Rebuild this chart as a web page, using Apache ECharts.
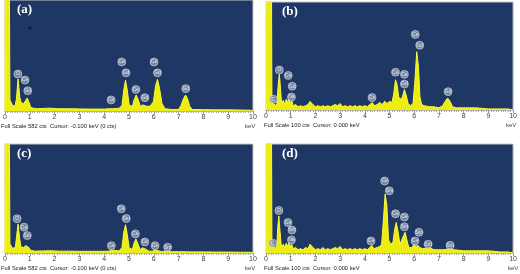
<!DOCTYPE html>
<html>
<head>
<meta charset="utf-8">
<script src="https://cdn.jsdelivr.net/npm/echarts@6/dist/echarts.min.js"></script>
<style>
  html, body { margin: 0; padding: 0; background: #fff; }
  #chart { width: 520px; height: 274px; }
</style>
</head>
<body>
<div id="chart"></div>
<script>
// spectra as [keV, counts]
const specA = [[0,0],[0.02,900],[0.17,900],[0.2,60],[0.3,30],[0.4,25],[0.46,60],[0.53,168],[0.6,70],[0.65,45],[0.7,50],[0.76,38],[0.83,55],[0.9,68],[0.97,45],[1.04,20],[1.15,14],[1.3,12],[1.5,13],[1.8,15],[2.1,12],[2.5,12],[3.0,11],[3.5,10],[4.0,10],[4.2,12],[4.28,18],[4.36,12],[4.6,14],[4.72,30],[4.79,110],[4.86,162],[4.93,110],[5.01,30],[5.14,25],[5.21,60],[5.29,84],[5.37,60],[5.46,25],[5.56,32],[5.63,37],[5.7,25],[5.85,25],[5.99,50],[6.07,130],[6.15,166],[6.23,120],[6.33,40],[6.45,12],[6.7,8],[7.0,8],[7.1,30],[7.2,65],[7.28,84],[7.36,65],[7.45,25],[7.55,8],[8,7],[8.5,6],[9,6],[9.5,5],[9.9,4],[10,0]];
const specB = [[0,0],[0.01,130],[0.22,130],[0.24,8],[0.28,9],[0.32,7],[0.38,4],[0.44,6],[0.5,25],[0.54,33],[0.58,22],[0.63,6],[0.7,9],[0.76,5],[0.82,10],[0.88,7],[0.93,11],[0.98,6],[1.04,9],[1.1,4],[1.2,5],[1.3,3],[1.4,4],[1.5,3],[1.6,4],[1.7,5],[1.78,8],[1.84,9],[1.9,5],[2.0,3],[2.1,4],[2.2,3],[2.3,4],[2.4,3],[2.5,4],[2.6,3],[2.7,4],[2.8,5],[2.9,4],[3.0,6],[3.1,3],[3.2,4],[3.3,3],[3.4,4],[3.5,3],[3.6,4],[3.7,3],[3.8,4],[3.9,3],[4.0,4],[4.1,3],[4.2,5],[4.3,7],[4.38,4],[4.5,5],[4.6,7],[4.7,5],[4.8,8],[4.9,6],[5.0,8],[5.1,7],[5.17,15],[5.24,28],[5.3,24],[5.37,12],[5.45,10],[5.52,12],[5.6,19],[5.67,14],[5.75,6],[5.85,4],[5.95,6],[6.02,25],[6.1,54],[6.17,40],[6.23,12],[6.3,5],[6.4,4],[6.6,3],[6.8,3],[7.0,2],[7.15,4],[7.25,8],[7.35,11],[7.45,8],[7.55,3],[7.7,2],[8.0,2],[8.5,2],[9.0,1],[9.5,1],[9.8,1],[10,0]];
const specC = [[0,0],[0.02,900],[0.17,900],[0.2,50],[0.3,25],[0.42,30],[0.47,90],[0.53,155],[0.59,80],[0.64,35],[0.7,38],[0.76,28],[0.83,40],[0.89,48],[0.96,30],[1.03,15],[1.2,10],[1.5,11],[1.8,12],[2.2,10],[2.6,10],[3.0,9],[3.5,9],[4.0,9],[4.2,10],[4.29,16],[4.36,10],[4.6,11],[4.72,30],[4.79,110],[4.86,151],[4.93,100],[5.01,25],[5.14,20],[5.21,55],[5.28,75],[5.36,50],[5.45,18],[5.55,28],[5.61,37],[5.68,20],[5.8,10],[5.95,10],[6.04,16],[6.12,9],[6.3,8],[6.56,9],[6.7,7],[7.0,7],[7.5,6],[8,6],[8.5,5],[9,5],[9.5,4],[9.9,4],[10,0]];
const specD = [[0,0],[0.01,130],[0.22,130],[0.24,8],[0.28,9],[0.32,6],[0.38,4],[0.44,7],[0.48,25],[0.52,34],[0.56,22],[0.62,6],[0.7,8],[0.76,5],[0.82,9],[0.88,6],[0.94,10],[0.99,5],[1.04,8],[1.1,4],[1.2,5],[1.3,3],[1.4,4],[1.5,3],[1.6,5],[1.7,4],[1.78,8],[1.84,9],[1.9,5],[2.0,3],[2.1,4],[2.2,3],[2.3,5],[2.4,3],[2.5,4],[2.6,3],[2.7,4],[2.8,5],[2.9,4],[3.0,6],[3.1,3],[3.2,4],[3.3,3],[3.4,4],[3.5,3],[3.6,4],[3.7,3],[3.8,4],[3.9,3],[4.0,4],[4.1,3],[4.2,5],[4.28,7],[4.36,4],[4.5,5],[4.6,6],[4.68,8],[4.75,30],[4.82,54],[4.89,44],[4.96,12],[5.05,8],[5.14,10],[5.21,22],[5.27,28],[5.34,20],[5.42,8],[5.5,9],[5.57,16],[5.63,19],[5.7,12],[5.78,5],[5.9,5],[6.0,8],[6.06,6],[6.15,7],[6.22,5],[6.35,4],[6.5,4],[6.6,5],[6.8,3],[7.0,3],[7.2,3],[7.45,4],[7.6,3],[8.0,2],[8.5,2],[9.0,2],[9.5,1],[9.8,1],[10,0]];

// element tags as [keV, counts, name]
const tagsA = [[0.52,194,'O'],[0.81,162,'Ce'],[0.92,106,'Gd'],[4.28,58,'Ce'],[4.71,257,'Ce'],[4.88,200,'Gd'],[5.28,113,'Ce'],[5.64,70,'Gd'],[6.01,257,'Ce'],[6.15,200,'Gd'],[7.29,117,'Gd']];
const tagsB = [[0.30,10,'C'],[0.54,37,'O'],[0.90,32,'Ce'],[1.06,22,'Gd'],[1.03,12,'Na'],[4.29,11.5,'Ce'],[5.24,35,'Ce'],[5.60,33,'Ce'],[5.60,24,'Gd'],[6.04,70,'Ce'],[6.22,60,'Gd'],[7.37,17,'Gd']];
const tagsC = [[0.49,183,'O'],[0.77,138,'Ce'],[0.90,93,'Sm'],[4.29,39,'Ce'],[4.69,236,'Ce'],[4.89,184,'Sm'],[5.26,102,'Ce'],[5.64,59,'Ce'],[6.05,39,'Ce'],[6.56,31,'Sm']];
const tagsD = [[0.27,9,'C'],[0.52,39,'O'],[0.89,28,'Ce'],[1.05,21,'Sm'],[1.03,12,'Na'],[4.25,11,'Ce'],[4.80,66,'Ce'],[4.99,57,'Sm'],[5.24,36,'Ce'],[5.60,33,'Ce'],[5.60,24,'Sm'],[6.19,19,'Sm'],[6.03,11,'Ce'],[6.56,8,'Sm'],[7.45,7,'Sm']];

const fullScale = [582, 100, 582, 100];
const panelNames = ['(a)', '(b)', '(c)', '(d)'];
const footers = ['Full Scale 582 cts  Cursor: -0.100 keV (0 cts)', 'Full Scale 100 cts  Cursor: 0.000 keV',
                 'Full Scale 582 cts  Cursor: -0.100 keV (0 cts)', 'Full Scale 100 cts  Cursor: 0.000 keV'];
const cursorA = [[1.0, 435]];

const specs = [specA, specB, specC, specD];
const tags = [tagsA, tagsB, tagsC, tagsD];

const grids = [
    { left: 3, width: 250, top: 0, height: 111 },
    { left: 266, width: 248, top: 2, height: 108 },
    { left: 3, width: 250, top: 144, height: 109 },
    { left: 266, width: 250, top: 144, height: 109 }
];

const chart = echarts.init(document.getElementById('chart'));

const xAxes = grids.map((g, i) => ({
    type: 'value', gridIndex: i, min: 0, max: 10, interval: 1,
    axisLine: { lineStyle: { color: '#b8b8b8', width: 1 } },
    axisTick: { length: 3, lineStyle: { color: '#999' } },
    minorTick: { show: true, splitNumber: 10, length: 2, lineStyle: { color: '#aaa' } },
    splitLine: { show: false },
    axisLabel: { fontSize: 7, color: '#444', margin: 3, fontFamily: 'Liberation Sans' }
}));
const yAxes = grids.map((g, i) => ({
    type: 'value', gridIndex: i, min: 0, max: fullScale[i], show: false, splitLine: { show: false }
}));

const series = [];
specs.forEach((s, i) => {
    series.push({
        type: 'line', xAxisIndex: i, yAxisIndex: i, data: s,
        symbol: 'none', clip: true,
        lineStyle: { color: '#f8f83c', width: 1 },
        areaStyle: { color: '#eded10', opacity: 1 }
    });
    series.push({
        type: 'scatter', xAxisIndex: i, yAxisIndex: i, data: tags[i],
        symbol: 'circle', symbolSize: 8,
        itemStyle: { color: '#8f9bb0', borderColor: '#dfe5ee', borderWidth: 0.7 },
        label: {
            show: true, position: 'inside',
            formatter: p => p.value[2], fontSize: 5, color: '#fff', fontFamily: 'Liberation Sans'
        },
        z: 5
    });
});
series.push({
    type: 'scatter', xAxisIndex: 0, yAxisIndex: 0, data: cursorA,
    symbolSize: 3, itemStyle: { color: '#0b1733' }
});

const graphics = [];
grids.forEach((g, i) => {
    graphics.push({
        type: 'text', left: g.left + 14 + (i % 2) * 2, top: g.top + 3,
        style: { text: panelNames[i], fill: '#fff', font: 'bold 13px "Liberation Serif"' }
    });
    const base = g.top + g.height;
    graphics.push({
        type: 'text', left: g.left - 2, top: base + 12,
        style: { text: footers[i], fill: '#222', font: '5.8px "Liberation Sans"' }
    });
    graphics.push({
        type: 'text', left: g.left + g.width - 8, top: base + 12,
        style: { text: 'keV', fill: '#444', font: '6px "Liberation Sans"' }
    });
});

chart.setOption({
    animation: false,
    backgroundColor: '#fff',
    grid: grids.map(g => Object.assign({ show: true, backgroundColor: '#1e3765', borderColor: '#c8c8c8', borderWidth: 1 }, g)),
    xAxis: xAxes,
    yAxis: yAxes,
    series: series,
    graphic: graphics
});
</script>
</body>
</html>
